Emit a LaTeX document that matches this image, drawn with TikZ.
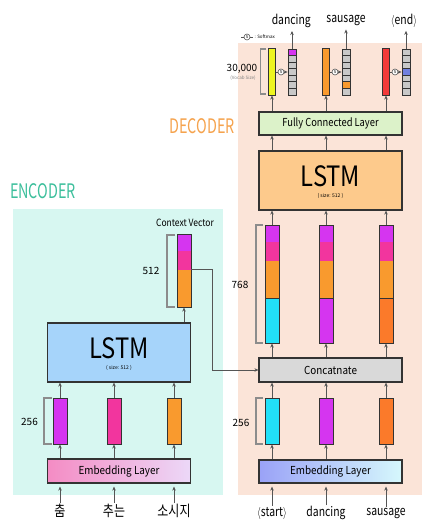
\documentclass[tikz,border=0pt]{standalone}
\usepackage{fontspec}
\usepackage{graphicx}
\setmainfont{Noto Sans CJK KR}
\usetikzlibrary{arrows.meta,calc}
\definecolor{encbg}{HTML}{D7F7F1}
\definecolor{decbg}{HTML}{FBE4D8}
\definecolor{enccol}{HTML}{3DBF9C}
\definecolor{deccol}{HTML}{F5A34E}
\definecolor{boxline}{HTML}{333333}
\definecolor{arrgray}{HTML}{555555}
\definecolor{brkgray}{HTML}{8C8C8C}
\definecolor{cpurple}{HTML}{D535F0}
\definecolor{cpink}{HTML}{F2359E}
\definecolor{corange}{HTML}{F99A2E}
\definecolor{ccyan}{HTML}{22E0F8}
\definecolor{cored}{HTML}{FB7A2A}
\definecolor{cyellow}{HTML}{EEF520}
\definecolor{cred}{HTML}{F23A3A}
\definecolor{cellgray}{HTML}{C8C8C8}
\definecolor{cblue}{HTML}{7080E0}
\definecolor{elstmcol}{HTML}{A6D4FA}
\definecolor{dlstmcol}{HTML}{FDCA8C}
\definecolor{fccol}{HTML}{DCF2C9}
\definecolor{concatcol}{HTML}{D9D9D9}
\definecolor{eembL}{HTML}{F48CC4}
\definecolor{eembR}{HTML}{ECD8F8}
\definecolor{dembL}{HTML}{9AA2F7}
\definecolor{dembR}{HTML}{D6F8FC}
\newcommand\myfs[1]{\fontsize{#1}{#1}\selectfont}
\newcommand\nar[2][0.8]{\scalebox{#1}[1]{#2}}
\begin{document}
\begin{tikzpicture}[x=1pt,y=-1pt,
  box/.style={draw=boxline,line width=1.2pt,inner sep=0pt,minimum width=143pt},
  vecbox/.style={draw=boxline,line width=1pt,inner sep=0pt,minimum width=14pt},
  arr/.style={draw=arrgray,line width=0.7pt,-{Stealth[length=4pt,width=3.5pt]}},
  plain/.style={draw=arrgray,line width=0.7pt},
  brk/.style={draw=brkgray,line width=1.3pt},
  smc/.style={circle,draw=arrgray,fill=white,line width=0.6pt,inner sep=0pt,minimum size=6pt,font=\myfs{4}},
  word/.style={font=\myfs{13},inner sep=1pt},
  kword/.style={font=\myfs{15},inner sep=1pt},
  num/.style={font=\myfs{10},inner sep=1pt},
  tiny/.style={font=\myfs{4.5},inner sep=0.5pt}]
\useasboundingbox (0,0) rectangle (436,527);
% backgrounds
\fill[encbg] (13,209) rectangle (223,495);
\fill[decbg] (238,43) rectangle (422,495);
\node[font=\myfs{20},text=enccol] (enctitle) at (43,191) {\nar[0.72]{ENCODER}};
\node[font=\myfs{20},text=deccol] (dectitle) at (202,126) {\nar[0.72]{DECODER}};

% ===== encoder =====
\node[box,fill=elstmcol,minimum height=59pt] (elstm) at (119,352.5) {};
\node[font=\myfs{28},inner sep=0pt] (elstmtxt) at (119,348) {\nar[0.85]{LSTM}};
\node[font=\myfs{5},inner sep=0pt] (elstmsz) at (119,368) {( size: 512 )};
\node[box,left color=eembL,right color=eembR,minimum height=24pt] (eemb) at (119,471) {\myfs{11}\nar[0.9]{Embedding Layer}};
\foreach \x/\c [count=\i] in {60/cpurple,114/cpink,174/corange}
  \node[vecbox,fill=\c,minimum height=46pt] (ev\i) at (\x,421) {};
\fill[cpurple] (177,234) rectangle (191,251);
\fill[cpink] (177,251) rectangle (191,270);
\fill[corange] (177,270) rectangle (191,307);
\node[vecbox,minimum height=73pt] (cv) at (184,270.5) {};
\node[font=\myfs{10},inner sep=1pt] (cvlab) at (185,223) {\nar[0.85]{Context Vector}};
\foreach \x/\w [count=\i] in {60/춤,114/추는,174/소시지}
  \node[kword] (w\i) at (\x,511) {\nar[0.8]{\w}};
\foreach \i in {1,2,3} {
  \draw[arr] (eemb.north -| ev\i) -- (ev\i.south);
  \draw[arr] (ev\i.north) -- (ev\i.north |- elstm.south);
  \draw[arr,shorten >=3pt] (w\i.north) -- (w\i.north |- eemb.south);
}
\draw[arr] (elstm.north -| cv) -- (cv.south);
% brackets encoder
\draw[brk] (52,398) -- (44,398) -- (44,444) -- (52,444);
\node[num] (l256e) at (29.5,422) {256};
\draw[brk] (175,235) -- (167,235) -- (167,307) -- (175,307);
\node[num] (l512) at (151,271) {512};

% ===== decoder =====
\node[box,fill=concatcol,minimum height=24pt] (concat) at (330.5,370) {\myfs{11}\nar[0.9]{Concatnate}};
\node[box,left color=dembL,right color=dembR,minimum height=23pt] (demb) at (330.5,471.5) {\myfs{11}\nar[0.9]{Embedding Layer}};
\foreach \x/\c [count=\i] in {272/ccyan,326/cpurple,386/cored}
  \node[vecbox,fill=\c,minimum height=46pt] (dv\i) at (\x,421) {};
\foreach \x/\c [count=\i] in {272/ccyan,326/cpurple,386/cored} {
  \fill[cpurple] (\x-7,225) rectangle (\x+7,242);
  \fill[cpink] (\x-7,242) rectangle (\x+7,261);
  \fill[corange] (\x-7,261) rectangle (\x+7,298);
  \fill[\c] (\x-7,298) rectangle (\x+7,343);
  \draw[boxline,line width=1pt] (\x-7,298) -- (\x+7,298);
  \node[vecbox,minimum height=118pt] (cc\i) at (\x,284) {};
}
\node[box,fill=dlstmcol,minimum height=59pt] (dlstm) at (330.5,180.5) {};
\node[font=\myfs{28},inner sep=0pt] (dlstmtxt) at (330.5,176) {\nar[0.85]{LSTM}};
\node[font=\myfs{5},inner sep=0pt] (dlstmsz) at (330.5,196) {( size: 512 )};
\node[box,fill=fccol,minimum height=23pt] (fc) at (330.5,123.5) {\myfs{11}\nar[0.85]{Fully Connected Layer}};
% output vectors
\foreach \x/\c [count=\i] in {272/cyellow,326/corange,386/cred}
  \node[vecbox,fill=\c,minimum width=7pt,minimum height=46pt] (o\i) at (\x,72) {};
\foreach \x/\k/\c [count=\i] in {292/0/cpurple,346/5/corange,406/3/cblue} {
  \foreach \j in {0,...,6} {
    \filldraw[fill=cellgray,draw=boxline,line width=0.8pt] (\x-4,49+\j*6.571) rectangle (\x+4,49+\j*6.571+6.571);
  }
  \filldraw[fill=\c,draw=boxline,line width=0.8pt] (\x-4,49+\k*6.571) rectangle (\x+4,49+\k*6.571+6.571);
  \node[draw=boxline,line width=0.8pt,inner sep=0pt,minimum width=8pt,minimum height=46pt] (p\i) at (\x,72) {};
}
\foreach \x [count=\i] in {281,335,395} {
  \node[smc] (s\i) at (\x,72) {S};
  \draw[plain] (o\i.east |- s\i) -- (s\i.west);
  \draw[arr] (s\i.east) -- (p\i.west |- s\i);
}
\foreach \x/\t [count=\i] in {291.3/dancing,346/sausage,404/{$\langle$end$\rangle$}}
  \node[word] (t\i) at (\x,21) {\nar[0.8]{\t}};
\foreach \i in {1,2,3}
  \draw[arr,shorten >=2pt] (p\i.north) -- (p\i.north |- t\i.south);
% legend
\node[smc] (leg) at (247,37) {S};
\coordinate (legL) at (241,37);
\coordinate (legR) at (253,37);
\draw[plain] (legL) -- (leg.west);
\draw[plain] (leg.east) -- (legR);
\node[tiny,anchor=west] (legtxt) at (254,37) {: Softmax};
% vocab
\node[num] (vocab) at (242,69) {30,000};
\node[tiny,text=gray] (vocabsz) at (243,78) {(Vocab Size)};
\draw[brk] (266,49) -- (260.5,49) -- (260.5,94) -- (266,94);
% decoder inputs
\foreach \x/\w [count=\i] in {272/{$\langle$start$\rangle$},326/dancing,386/sausage}
  \node[word] (d\i) at (\x,513) {\nar[0.8]{\w}};
% decoder arrows
\foreach \i in {1,2,3} {
  \draw[arr,shorten >=3pt] (d\i.north) -- (d\i.north |- demb.south);
  \draw[arr] (demb.north -| dv\i) -- (dv\i.south);
  \draw[arr] (dv\i.north) -- (dv\i.north |- concat.south);
  \draw[arr] (concat.north -| cc\i) -- (cc\i.south);
  \draw[arr] (cc\i.north) -- (cc\i.north |- dlstm.south);
  \draw[arr] (dlstm.north -| cc\i) -- (cc\i |- fc.south);
  \draw[arr] (fc.north -| o\i) -- (o\i.south);
}
% brackets decoder
\draw[brk] (263,225) -- (256,225) -- (256,343) -- (263,343);
\node[num] (l768) at (240,285) {768};
\draw[brk] (263,398) -- (256,398) -- (256,444) -- (263,444);
\node[num] (l256d) at (241,423) {256};
% context connector
\coordinate (cvout) at (191,269);
\coordinate (cvbend) at (212,269);
\draw[arr] (cvout) -- (cvbend) |- (concat.west);
\end{tikzpicture}
\end{document}
